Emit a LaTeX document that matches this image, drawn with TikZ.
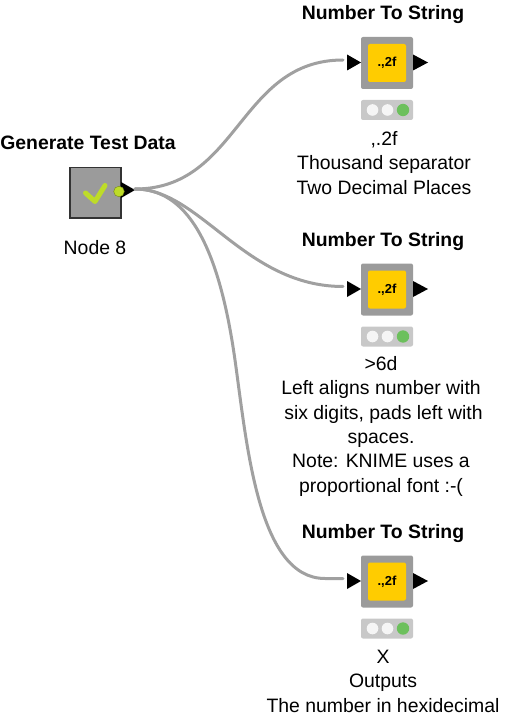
\documentclass[tikz,border=0pt]{standalone}
\usepackage{fontspec}
\setmainfont{Liberation Sans}
\definecolor{boxg}{HTML}{9B9B9B}
\definecolor{yel}{HTML}{FFCC00}
\definecolor{trf}{HTML}{C8C8C8}
\definecolor{grn}{HTML}{6CC05C}
\definecolor{lime}{HTML}{BEDC28}
\definecolor{wire}{HTML}{A0A0A0}
\tikzset{x=1pt,y=-1pt,
 lbl/.style={font=\fontsize{19.4}{24.4}\selectfont,align=center,inner sep=0pt,text=black},
 ttl/.style={font=\fontsize{19.4}{20}\selectfont\bfseries,inner sep=0pt,text=black},
 wirel/.style={draw=wire,line width=3pt,line cap=round},
 port/.style={fill=black,draw=none}}
\newcommand{\ntsnode}[3]{%
 \begin{scope}[yshift=#2 pt]
 \fill[boxg,rounded corners=2pt] (361,37) rectangle (413,89);
 \fill[yel,rounded corners=2pt] (368,44) rectangle (406,82);
 \node[inner sep=0pt,font=\fontsize{13}{13}\selectfont\bfseries] at (387,63) {.,2f};
 \fill[port] (347,54.5) -- (361,62.5) -- (347,70.5) -- cycle;
 \fill[port] (413,54.5) -- (428,62.5) -- (413,70.5) -- cycle;
 \fill[trf,rounded corners=2pt] (361,100) rectangle (413,120);
 \fill[white!92!gray] (372.5,110) circle (5.8);
 \fill[white!92!gray] (387.5,110) circle (5.8);
 \fill[grn] (403,110) circle (6.2);
 \coordinate (#3) at (343,60);
 \end{scope}}
\begin{document}
\begin{tikzpicture}
\useasboundingbox (0,0) rectangle (512,719);
% source node
\fill[boxg,draw=black!80,line width=1.3pt] (70,167.5) rectangle (121,218);
\draw[lime,line width=5pt,line cap=round,line join=round] (85.5,193) -- (95,201.5) -- (105,185.5);
\fill[port] (121,182) -- (135,190) -- (121,198) -- cycle;
\fill[lime,draw=lime!60!black,line width=0.4pt] (119,191.5) circle (5.3);
\coordinate (src) at (135,189);
\ntsnode{a}{0}{ina}
\ntsnode{b}{-226.5}{inb}
\ntsnode{c}{-518.5}{inc}
% connectors
\draw[wirel] (src) .. controls (239,189) and (239,60) .. (ina);
\draw[wirel] (src) .. controls (200,189) and (245,286.5) .. (inb);
\draw[wirel] (src) .. controls (185,189) and (218,240) .. (235,360)
   .. controls (247,445) and (258,578.5) .. (325,578.5) -- (inc);
% labels
\node[ttl] (t0) at (88,143) {Generate Test Data};
\node[lbl] (l0) at (95,248) {Node 8};
\node[ttl] (t1) at (383,15) {Number To String};
\node[ttl] (t2) at (383,242) {Number To String};
\node[ttl] (t3) at (383,534) {Number To String};
\node[lbl,anchor=north] (l1) at (384,131) {,.2f\\Thousand separator\\Two Decimal Places};
\node[lbl,anchor=north] (l2) at (381,356) {>6d\\Left aligns number with\\\hspace*{5pt}six digits, pads left with\\spaces.\\Note: KNIME uses a\\proportional font :-(};
\node[lbl,anchor=north] (l3) at (383,650) {X\\Outputs\\The number in hexidecimal};
\end{tikzpicture}
\end{document}
